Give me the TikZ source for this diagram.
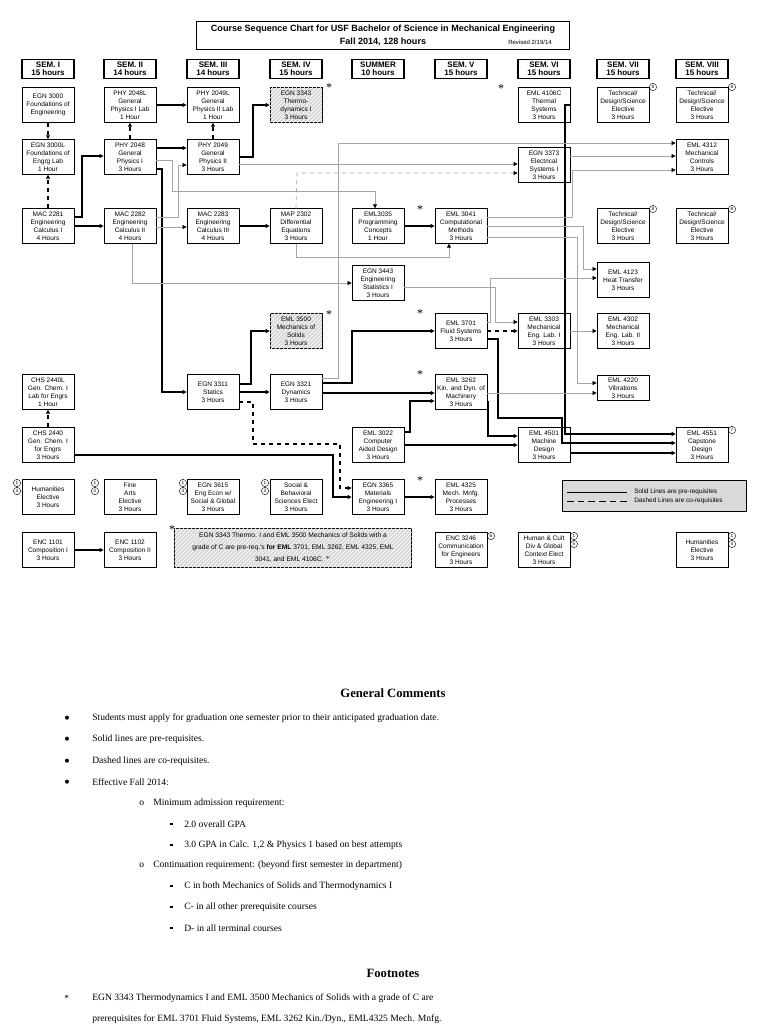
\documentclass[tikz,border=0pt]{standalone}
\usepackage{fontspec}
\setmainfont{Liberation Serif}
\newfontfamily\arialf{Liberation Sans}
\usetikzlibrary{arrows.meta,patterns}
\begin{document}
\begin{tikzpicture}[x=0.75pt,y=-0.75pt,
 box/.style={draw,line width=0.6pt,minimum width=39pt,minimum height=26pt,inner sep=0.5pt,align=center,font=\arialf\fontsize{4.9}{6}\selectfont},
 hat/.style={box,fill=gray!30,postaction={pattern=north east lines,pattern color=white}},
 hdr/.style={draw,line width=0.8pt,minimum width=39pt,minimum height=14.5pt,inner sep=0.5pt,align=center,font=\arialf\bfseries\fontsize{6}{6.3}\selectfont},
 pre/.style={line width=0.9pt,-{Triangle[length=3pt,width=3pt]}},
 co/.style={line width=0.9pt,dashed,-{Triangle[length=3pt,width=3pt]}},
 gr/.style={line width=0.5pt,gray!70,-{Triangle[length=3pt,width=3pt,black]}},
 grd/.style={gr,dashed},
 cnum/.style={circle,draw,line width=0.3pt,inner sep=0pt,minimum size=5.5pt,font=\arialf\fontsize{3.5}{4}\selectfont},
 star/.style={font=\fontsize{9}{9}\selectfont,inner sep=0pt},
 tx/.style={anchor=west,inner sep=0pt,font=\fontsize{7.2}{8}\selectfont}]
\useasboundingbox (0,0) rectangle (768,1024);
% title
\node[draw,line width=0.6pt,minimum width=280pt,minimum height=21pt,inner sep=0pt] (title) at (383,35) {};
\node[font=\arialf\bfseries\fontsize{6.8}{7}\selectfont,inner sep=0pt] (t1) at (383,29) {Course Sequence Chart for USF Bachelor of Science in Mechanical Engineering};
\node[font=\arialf\bfseries\fontsize{6.8}{7}\selectfont,inner sep=0pt] (t2) at (383,42) {Fall 2014, 128 hours};
\node[font=\arialf\fontsize{4.5}{5}\selectfont,inner sep=0pt] (t3) at (530,42) {Revised 2/19/14};
% headers
\foreach \n/\x/\a/\b in {h1/48/SEM. I/15 hours,h2/130/SEM. II/14 hours,h3/213/SEM. III/14 hours,h4/296/SEM. IV/15 hours,h5/378/SUMMER/10 hours,h6/461/SEM. V/15 hours,h7/544/SEM. VI/15 hours,h8/623/SEM. VII/15 hours,h9/702/SEM. VIII/15 hours}
 \node[hdr] (\n) at (\x,69) {\a\\\b};
% row 1
\node[box] (egn3000) at (48,105) {EGN 3000\\Foundations of\\Engineering};
\node[box] (phy48L) at (130,105) {PHY 2048L\\General\\Physics I Lab\\1 Hour};
\node[box] (phy49L) at (213,105) {PHY 2049L\\General\\Physics II Lab\\1 Hour};
\node[hat] (egn3343) at (296,105) {EGN 3343\\Thermo-\\dynamics I\\3 Hours};
\node[box] (eml4106) at (544,105) {EML 4106C\\Thermal\\Systems\\3 Hours};
\node[box] (te7a) at (623,105) {Technical/\\Design/Science\\Elective\\3 Hours};
\node[box] (te8a) at (702,105) {Technical/\\Design/Science\\Elective\\3 Hours};
% row 2
\node[box] (egn3000L) at (48,157) {EGN 3000L\\Foundations of\\Engrg Lab\\1 Hour};
\node[box] (phy48) at (130,157) {PHY 2048\\General\\Physics I\\3 Hours};
\node[box] (phy49) at (213,157) {PHY 2049\\General\\Physics II\\3 Hours};
\node[box] (egn3373) at (544,165) {EGN 3373\\Electrical\\Systems I\\3 Hours};
\node[box] (eml4312) at (702,157) {EML 4312\\Mechanical\\Controls\\3 Hours};
% row 3
\node[box] (mac1) at (48,226) {MAC 2281\\Engineering\\Calculus I\\4 Hours};
\node[box] (mac2) at (130,226) {MAC 2282\\Engineering\\Calculus II\\4 Hours};
\node[box] (mac3) at (213,226) {MAC 2283\\Engineering\\Calculus III\\4 Hours};
\node[box] (map) at (296,226) {MAP 2302\\Differential\\Equations\\3 Hours};
\node[box] (eml3035) at (378,226) {EML3035\\Programming\\Concepts\\1 Hour};
\node[box] (eml3041) at (461,226) {EML 3041\\Computational\\Methods\\3 Hours};
\node[box] (te7b) at (623,226) {Technical/\\Design/Science\\Elective\\3 Hours};
\node[box] (te8b) at (702,226) {Technical/\\Design/Science\\Elective\\3 Hours};
\node[box] (egn3443) at (378,283) {EGN 3443\\Engineering\\Statistics I\\3 Hours};
\node[box] (eml4123) at (623,280) {EML 4123\\Heat Transfer\\3 Hours};
% row 4
\node[hat] (eml3500) at (296,331) {EML 3500\\Mechanics of\\Solids\\3 Hours};
\node[box] (eml3701) at (461,331) {EML 3701\\Fluid Systems\\3 Hours};
\node[box] (eml3303) at (544,331) {EML 3303\\Mechanical\\Eng. Lab. I\\3 Hours};
\node[box] (eml4302) at (623,331) {EML 4302\\Mechanical\\Eng. Lab. II\\3 Hours};
% row 5
\node[box] (chs40L) at (48,392) {CHS 2440L\\Gen. Chem. I\\Lab for Engrs\\1 Hour};
\node[box] (egn3311) at (213,392) {EGN 3311\\Statics\\3 Hours};
\node[box] (egn3321) at (296,392) {EGN 3321\\Dynamics\\3 Hours};
\node[box] (eml3262) at (461,392) {EML 3262\\Kin. and Dyn. of\\Machinery\\3 Hours};
\node[box,minimum height=19pt] (eml4220) at (623,388) {EML 4220\\Vibrations\\3 Hours};
% row 6
\node[box] (chs40) at (48,445) {CHS 2440\\Gen. Chem. I\\for Engrs\\3 Hours};
\node[box] (eml3022) at (378,445) {EML 3022\\Computer\\Aided Design\\3 Hours};
\node[box] (eml4501) at (544,445) {EML 4501\\Machine\\Design\\3 Hours};
\node[box] (eml4551) at (702,445) {EML 4551\\Capstone\\Design\\3 Hours};
% row 7
\node[box] (hum1) at (48,497) {Humanities\\Elective\\3 Hours};
\node[box] (fine) at (130,497) {Fine\\Arts\\Elective\\3 Hours};
\node[box] (egn3615) at (213,497) {EGN 3615\\Eng Econ w/\\Social \& Global\\3 Hours};
\node[box] (soc) at (296,497) {Social \&\\Behavioral\\Sciences Elect\\3 Hours};
\node[box] (egn3365) at (378,497) {EGN 3365\\Materials\\Engineering I\\3 Hours};
\node[box] (eml4325) at (461,497) {EML 4325\\Mech. Mnfg.\\Processes\\3 Hours};
% row 8
\node[box] (enc1101) at (48,550) {ENC 1101\\Composition I\\3 Hours};
\node[box] (enc1102) at (130,550) {ENC 1102\\Composition II\\3 Hours};
\node[box] (enc3246) at (461,550) {ENC 3246\\Communication\\for Engineers\\3 Hours};
\node[box] (hcult) at (544,550) {Human \& Cult\\Div \& Global\\Context Elect\\3 Hours};
\node[box] (hum8) at (702,550) {Humanities\\Elective\\3 Hours};
% footnote box
\node[draw,line width=0.6pt,fill=gray!30,postaction={pattern=north east lines,pattern color=white},minimum width=178pt,minimum height=29pt,align=center,inner sep=1pt,font=\arialf\fontsize{5}{9}\selectfont] (fnbox) at (293,548) {EGN 3343 Thermo. I and EML 3500 Mechanics of Solids with a\\grade of C are pre-req.'s {\bfseries for EML} 3701, EML 3262, EML 4325, EML\\3041, and EML 4106C. $^{*}$};
% legend
\node[draw,line width=0.6pt,fill=gray!30,minimum width=138pt,minimum height=23pt] (leg) at (654,496) {};
\coordinate (l1a) at (567,492); \coordinate (l1b) at (627,492);
\coordinate (l2a) at (567,501); \coordinate (l2b) at (627,501);
\draw[line width=0.6pt] (l1a) -- (l1b);
\draw[line width=0.6pt,dash pattern=on 5pt off 3pt] (l2a) -- (l2b);
\node[anchor=west,inner sep=0pt,font=\arialf\fontsize{4.8}{5}\selectfont] (lt1) at (634,492) {Solid Lines are pre-requisites};
\node[anchor=west,inner sep=0pt,font=\arialf\fontsize{4.8}{5}\selectfont] (lt2) at (634,501) {Dashed Lines are co-requisites};
% stars
\node[star] (s1) at (329,88) {*};
\node[star] (s2) at (329,315) {*};
\node[star] (s3) at (501,89) {*};
\node[star] (s4) at (420,210) {*};
\node[star] (s5) at (420,314) {*};
\node[star] (s6) at (420,375) {*};
\node[star] (s7) at (420,481) {*};
\node[star] (s8) at (172,530) {*};
% circled numbers
\foreach \n/\x/\y/\t in {c1/17/483/1,c2/17/491/4,c3/95/483/1,c4/95/491/2,c5/183/483/1,c6/183/491/3,c7/265/483/1,c8/265/491/3,c9/653/87/8,c10/732/87/8,c11/653/209/8,c12/732/209/8,c13/732/430/7,c14/491/536/6,c15/574/536/1,c16/574/544/5,c17/732/536/1,c18/732/544/4}
 \node[cnum] (\n) at (\x,\y) {\t};
% ---- co-requisites
\draw[co] (egn3000) -- (egn3000L);
\draw[co] (mac1) -- (egn3000L);
\draw[co] (phy48) -- (phy48L);
\draw[co] (phy49) -- (phy49L);
\draw[co] (chs40) -- (chs40L);
\draw[co] (eml3701) -- (eml3303);
\draw[co] (egn3311.east |- 0,402) -- (253,402) -- (253,444) -- (340,444) -- (340,488) -- (egn3365.west |- 0,488);
\draw[grd] (map.north) -- (297,173) -- (egn3373.west |- 0,173);
% ---- pre-requisites (black)
\draw[pre] (mac1.east |- 0,217) -- (82,217) -- (82,156) -- (phy48.west |- 0,156);
\draw[pre] (mac1) -- (mac2);
\draw[pre] (phy48L) -- (phy49L);
\draw[pre] (phy48.east |- 0,148) -- (phy49.west |- 0,148);
\draw[pre] (phy49.east |- 0,157) -- (253,157) -- (253,105) -- (egn3343.west |- 0,105);
\draw[pre] (phy48.east |- 0,169) -- (162,169) -- (162,392) -- (egn3311.west |- 0,392);
\draw[pre] (mac3) -- (map);
\draw[pre] (eml3035) -- (eml3041);
\draw[pre] (egn3311.east |- 0,384) -- (251,384) -- (251,331) -- (eml3500.west |- 0,331);
\draw[pre] (egn3311) -- (egn3321);
\draw[pre] (egn3321.east |- 0,383) -- (352,383) -- (352,331) -- (eml3701.west |- 0,331);
\draw[pre] (egn3321.east |- 0,393) -- (eml3262.west |- 0,393);
\draw[pre] (eml3022.east |- 0,432) -- (410,432) -- (410,401) -- (eml3262.west |- 0,401);
\draw[pre] (eml3022.east |- 0,445) -- (eml4501.west |- 0,445);
\draw[pre] (eml3262.east |- 0,402) -- (488,402) -- (488,436) -- (eml4501.west |- 0,436);
\draw[pre] (eml3701.east |- 0,339) -- (498,339) -- (498,418) -- (562,418) -- (562,443) -- (eml4551.west |- 0,443);
\draw[pre] (eml4106.east |- 0,105) -- (565,105) -- (565,434) -- (eml4551.west |- 0,434);
\draw[pre] (eml4501.east |- 0,453) -- (eml4551.west |- 0,453);
\draw[pre] (chs40.east |- 0,455) -- (333,455) -- (333,497) -- (egn3365.west |- 0,497);
\draw[pre] (egn3365) -- (eml4325);
\draw[pre] (enc1101) -- (enc1102);
% ---- gray pre-requisites
\draw[gr] (phy48.east |- 0,160) -- (172,160) -- (172,191) -- (375,191) -- (eml3035.north -| 375,0);
\draw[gr] (mac2.east |- 0,217) -- (178,217) -- (178,165) -- (phy49.west |- 0,165);
\draw[gr] (mac2.east |- 0,227) -- (mac3.west |- 0,227);
\draw[gr] (map.south) -- (296,257) -- (449,257) -- (eml3041.south -| 449,0);
\draw[gr] (egn3321.east |- 0,378) -- (338,378) -- (338,143) -- (eml4312.west |- 0,143);
\draw[gr] (phy49.east |- 0,164) -- (egn3373.west |- 0,164);
\draw[gr] (egn3373.east |- 0,156) -- (eml4312.west |- 0,156);
\draw[gr] (eml3041.east |- 0,217) -- (572,217) -- (572,170) -- (eml4312.west |- 0,170);
\draw[gr] (eml3041.east |- 0,226) -- (583,226) -- (583,269) -- (eml4123.west |- 0,269);
\draw[gr] (eml3041.east |- 0,237) -- (577,237) -- (577,383) -- (eml4220.west |- 0,383);
\draw[gr] (eml3701.east |- 0,322) -- (490,322) -- (490,278) -- (eml4123.west |- 0,278);
\draw[gr] (egn3443.east |- 0,287) -- (495,287) -- (495,322) -- (eml3303.west |- 0,322);
\draw[gr] (eml3303.east |- 0,331) -- (eml4302.west |- 0,331);
\draw[gr] (eml3262.east |- 0,393) -- (eml4220.west |- 0,393);
\draw[gr] (mac2.south -| 132,0) -- (132,283) -- (egn3443.west |- 0,283);
% ---- text below
\node[font=\bfseries\fontsize{9.5}{10}\selectfont] (gc) at (393,693) {General Comments};
\foreach \y/\t in {718/{Students must apply for graduation one semester prior to their anticipated graduation date.},739/{Solid lines are pre-requisites.},761/{Dashed lines are co-requisites.},782/{Effective Fall 2014:}}
 {\node[tx] at (64,\y) {$\bullet$}; \node[tx] at (92,\y) {\t};}
\foreach \y/\t in {803/{Minimum admission requirement:},865/{Continuation requirement: (beyond first semester in department)}}
 {\node[tx] at (139,\y) {o}; \node[tx] at (153,\y) {\t};}
\foreach \y/\t in {824/{2.0 overall GPA},845/{3.0 GPA in Calc. 1,2 \& Physics 1 based on best attempts},886/{C in both Mechanics of Solids and Thermodynamics I},907/{C- in all other prerequisite courses},928/{D- in all terminal courses}}
 {\node[tx] at (170,\y) {\rule{2pt}{2pt}}; \node[tx] at (184,\y) {\t};}
\node[font=\bfseries\fontsize{9.5}{10}\selectfont] (fn) at (393,973) {Footnotes};
\node[tx] at (64,998) {*};
\node[tx] at (92,998) {EGN 3343 Thermodynamics I and EML 3500 Mechanics of Solids with a grade of C are};
\node[tx] at (92,1019) {prerequisites for EML 3701 Fluid Systems, EML 3262 Kin./Dyn., EML4325 Mech. Mnfg.};
\end{tikzpicture}
\end{document}
